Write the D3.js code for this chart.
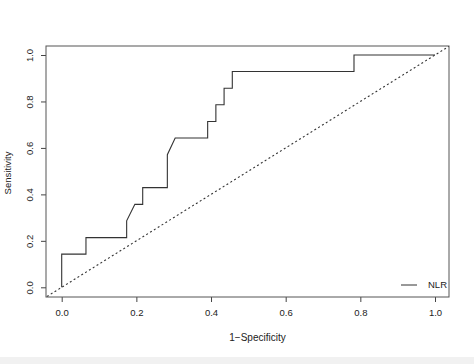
<!DOCTYPE html>
<html>
<head>
    <title></title>
    <meta charset="utf-8">
    <style>
        body { margin: 0; background: #fff; }
        text { font-family: "Liberation Sans", Arial, sans-serif; fill: #222; }
    </style>
</head>
<body>
<script src="https://d3js.org/d3.v7.min.js"></script>
<script>
    // ROC curve points for NLR (1-specificity, sensitivity)
    var fpr = [0, 0, 0.065, 0.065, 0.174, 0.174, 0.196, 0.217, 0.217, 0.283, 0.283, 0.304,
               0.391, 0.391, 0.413, 0.413, 0.435, 0.435, 0.457, 0.457, 0.783, 0.783, 1];
    var tpr = [0, 0.143, 0.143, 0.214, 0.214, 0.286, 0.357, 0.357, 0.429, 0.429, 0.571, 0.643,
               0.643, 0.714, 0.714, 0.786, 0.786, 0.857, 0.857, 0.929, 0.929, 1, 1];
    var ticks = [0, 0.2, 0.4, 0.6, 0.8, 1.0];
    var legendLabels = ['NLR'];

    var W = 474, H = 364;
    var box = { left: 46, top: 46, right: 449, bottom: 297 };

    var svg = d3.select('body').append('svg')
        .attr('width', W)
        .attr('height', H);

    // light grey strip at the bottom of the picture
    svg.append('rect')
        .attr('x', 0).attr('y', 357)
        .attr('width', W).attr('height', H - 357)
        .style('fill', '#f1f1f1');

    var x = d3.scaleLinear().domain([0, 1]).range([61.7, 435]);
    var y = d3.scaleLinear().domain([0, 1]).range([287.3, 55]);

    svg.append('clipPath').attr('id', 'plotclip')
        .append('rect')
        .attr('x', box.left).attr('y', box.top)
        .attr('width', box.right - box.left).attr('height', box.bottom - box.top);

    // x axis
    var xAxis = svg.append('g')
        .attr('transform', 'translate(0,' + box.bottom + ')')
        .call(d3.axisBottom(x).tickValues(ticks).tickFormat(d3.format('.1f')).tickSize(5).tickPadding(7));
    xAxis.select('.domain').remove();
    xAxis.selectAll('line').style('stroke', '#444');
    xAxis.selectAll('text').style('font-size', '9.5px').style('fill', '#222');

    // y axis, labels rotated like R
    var yAxis = svg.append('g')
        .attr('transform', 'translate(' + box.left + ',0)')
        .call(d3.axisLeft(y).tickValues(ticks).tickFormat(d3.format('.1f')).tickSize(5));
    yAxis.select('.domain').remove();
    yAxis.selectAll('line').style('stroke', '#444');
    yAxis.selectAll('text')
        .style('font-size', '9.5px').style('fill', '#222')
        .attr('x', null)
        .attr('text-anchor', 'middle')
        .attr('transform', 'translate(-16.5,0) rotate(-90)')
        .attr('y', 0)
        .attr('dy', '0.35em');

    // axis titles
    svg.append('text')
        .attr('x', (box.left + box.right) / 2 + 10)
        .attr('y', 341)
        .attr('text-anchor', 'middle')
        .style('font-size', '10px')
        .text('1\u2212Specificity');

    svg.append('text')
        .attr('transform', 'translate(10.5,' + 173 + ') rotate(-90)')
        .attr('text-anchor', 'middle')
        .style('font-size', '9.5px')
        .text('Sensitivity');

    // diagonal reference line
    svg.append('line')
        .attr('clip-path', 'url(#plotclip)')
        .attr('x1', x(-0.06)).attr('y1', y(-0.06))
        .attr('x2', x(1.06)).attr('y2', y(1.06))
        .style('stroke', '#333')
        .style('stroke-width', 1.1)
        .style('stroke-dasharray', '2,2.5');

    // ROC curve
    var pts = fpr.map(function (d, i) { return [d, tpr[i]]; });
    var line = d3.line()
        .x(function (d) { return x(d[0]); })
        .y(function (d) { return y(d[1]); });
    svg.append('path')
        .datum(pts)
        .attr('d', line)
        .style('fill', 'none')
        .style('stroke', '#333')
        .style('stroke-width', 1.1);

    // plot box
    svg.append('rect')
        .attr('x', box.left).attr('y', box.top)
        .attr('width', box.right - box.left).attr('height', box.bottom - box.top)
        .style('fill', 'none')
        .style('stroke', '#555')
        .style('stroke-width', 1);

    // legend (no box)
    var lg = svg.append('g').attr('transform', 'translate(401,285)');
    lg.append('line')
        .attr('x1', 0).attr('x2', 16)
        .style('stroke', '#333').style('stroke-width', 1);
    lg.selectAll('text').data(legendLabels).enter().append('text')
        .attr('x', 27).attr('dy', '0.35em')
        .style('font-size', '9.5px')
        .text(function (d) { return d; });
</script>
</body>
</html>
